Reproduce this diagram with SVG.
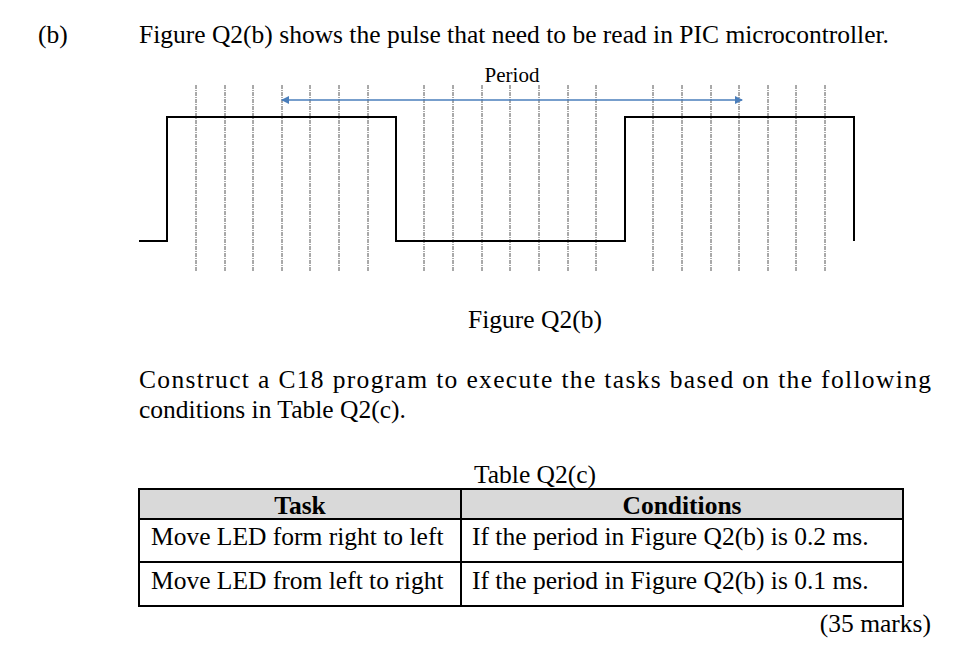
<svg xmlns="http://www.w3.org/2000/svg" width="960" height="653" viewBox="0 0 960 653">
<style>
text{font-family:"Liberation Serif","Times New Roman",serif;fill:#000}
.t{font-size:25.5px}
.g{stroke:#555;stroke-width:1;stroke-dasharray:4 1 1 1}
.b{fill:none;stroke:#000;stroke-width:2}
</style>
<defs><marker id="ar" markerWidth="8" markerHeight="8" refX="7" refY="4" orient="auto-start-reverse" markerUnits="userSpaceOnUse"><path d="M0,0 L8,4 L0,8Z" fill="#4a7ebb"/></marker></defs>
<rect width="960" height="653" fill="#fff"/>
<text class="t" x="38" y="43">(b)</text>
<text class="t" x="139" y="43">Figure Q2(b) shows the pulse that need to be read in PIC microcontroller.</text>
<g id="grid">
<path class="g" d="M196 85V272M225 85V272M253 85V272M282 85V272M310 85V272M339 85V272M368 85V272M424 85V272M453 85V272M482 85V272M510 85V272M539 85V272M568 85V272M596 85V272M653 85V272M682 85V272M711 85V272M739 85V272M768 85V272M796 85V272M825 85V272"/>
</g>
<g id="signal"><path class="b" d="M139 241H167V117H396V241H625V117H854V241"/></g>
<g id="connectors"><line x1="282" y1="100" x2="742" y2="100" stroke="#4a7ebb" stroke-width="1.5" marker-start="url(#ar)" marker-end="url(#ar)"/></g>
<g id="period"><text x="512" y="82" font-size="21" text-anchor="middle">Period</text></g>
<text class="t" x="535" y="328" text-anchor="middle">Figure Q2(b)</text>
<text class="t" x="139" y="388" textLength="792" lengthAdjust="spacing">Construct a C18 program to execute the tasks based on the following</text>
<text class="t" x="139" y="418">conditions in Table Q2(c).</text>
<text class="t" x="535" y="483" text-anchor="middle">Table Q2(c)</text>
<g id="table">
<rect x="139" y="489" width="764" height="30" fill="#d9d9d9"/>
<path class="b" d="M139 489H903V606H139Z M139 519H903 M139 562H903 M461 489V606"/>
<text class="t" x="300" y="514" text-anchor="middle" font-weight="bold">Task</text>
<text class="t" x="682" y="514" text-anchor="middle" font-weight="bold">Conditions</text>
<text class="t" x="151" y="545">Move LED form right to left</text>
<text class="t" x="472" y="545">If the period in Figure Q2(b) is 0.2 ms.</text>
<text class="t" x="151" y="589">Move LED from left to right</text>
<text class="t" x="472" y="589">If the period in Figure Q2(b) is 0.1 ms.</text>
</g>
<text class="t" x="931" y="632" text-anchor="end">(35 marks)</text>
</svg>
